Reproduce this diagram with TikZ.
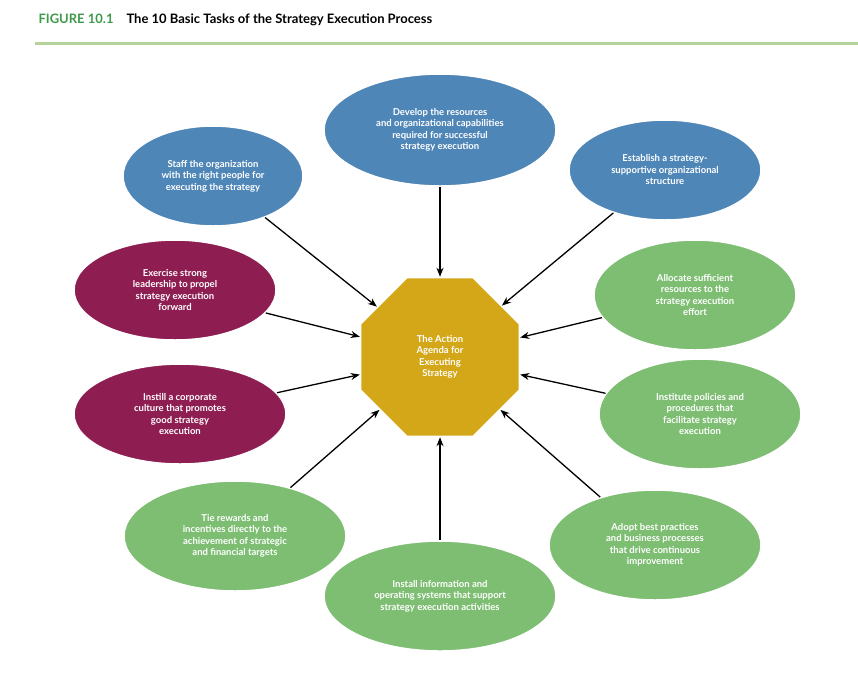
\documentclass[tikz,border=0pt]{standalone}
\usepackage{fontspec}
\setmainfont{Lato}
\usetikzlibrary{shapes.geometric,arrows.meta}
\definecolor{cblue}{HTML}{4F86B8}
\definecolor{cpurp}{HTML}{8E1E52}
\definecolor{cgreen}{HTML}{7DBE72}
\definecolor{cgold}{HTML}{D4A718}
\definecolor{ctitle}{HTML}{3E9A4A}
\definecolor{cline}{HTML}{B5D39A}
\begin{document}
\begin{tikzpicture}[x=1pt,y=-1pt,
  task/.style={ellipse,draw=white,line width=1.5pt,text=white,font=\bfseries\fontsize{9.5}{11.5}\selectfont,align=center,inner sep=0pt},
  conn/.style={-{Stealth[length=9pt,width=7pt]},line width=1.3pt,black}]
\useasboundingbox (0,0) rectangle (858,675);
\node[anchor=west,font=\bfseries\fontsize{13}{15}\selectfont] (title) at (35,20) {\textcolor{ctitle}{FIGURE 10.1}\quad The 10 Basic Tasks of the Strategy Execution Process};
\draw[cline,line width=3pt] (35,43) -- (858,43);
\node[regular polygon,regular polygon sides=8,minimum size=172pt,fill=cgold,draw=white,line width=1.5pt,text=white,font=\bfseries\fontsize{9.5}{11.5}\selectfont,align=center] (c) at (440,357) {The Action\\Agenda for\\Executing\\Strategy};
\node[task,fill=cblue,minimum width=232pt,minimum height=112pt] (t1) at (440,130) {Develop the resources\\and organizational capabilities\\required for successful\\strategy execution};
\node[task,fill=cblue,minimum width=180pt,minimum height=100pt] (t2) at (213,176) {Staff the organization\\with the right people for\\executing the strategy};
\node[task,fill=cblue,minimum width=192pt,minimum height=100pt] (t3) at (665,170) {Establish a strategy-\\supportive organizational\\structure};
\node[task,fill=cpurp,minimum width=202pt,minimum height=100pt] (t4) at (175,290) {Exercise strong\\leadership to propel\\strategy execution\\forward};
\node[task,fill=cgreen,minimum width=202pt,minimum height=110pt] (t5) at (695,295) {Allocate sufficient\\resources to the\\strategy execution\\effort};
\node[task,fill=cpurp,minimum width=212pt,minimum height=100pt] (t6) at (180,414) {Instill a corporate\\culture that promotes\\good strategy\\execution};
\node[task,fill=cgreen,minimum width=202pt,minimum height=110pt] (t7) at (700,414) {Institute policies and\\procedures that\\facilitate strategy\\execution};
\node[task,fill=cgreen,minimum width=222pt,minimum height=110pt] (t8) at (235,536) {Tie rewards and\\incentives directly to the\\achievement of strategic\\and financial targets};
\node[task,fill=cgreen,minimum width=212pt,minimum height=110pt] (t9) at (655,545) {Adopt best practices\\and business processes\\that drive continuous\\improvement};
\node[task,fill=cgreen,minimum width=232pt,minimum height=110pt] (t10) at (440,596) {Install information and\\operating systems that support\\strategy execution activities};
\foreach \t in {t1,t2,t3,t4,t5,t6,t7,t8,t9,t10} \draw[conn] (\t) -- (c);
\end{tikzpicture}
\end{document}
